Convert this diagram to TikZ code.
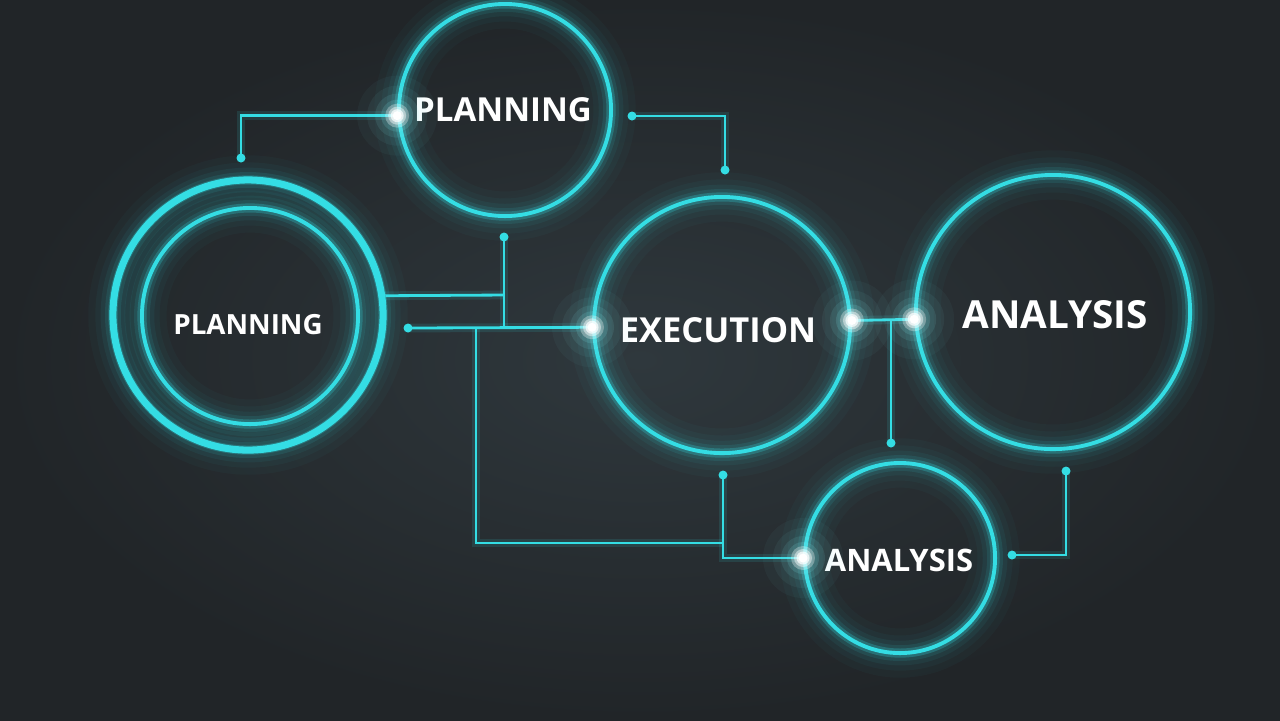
\documentclass[tikz,border=0pt]{standalone}
\usepackage{fontspec}
\setmainfont{Open Sans}
\usepackage{tikz}
\usetikzlibrary{positioning, calc}

\definecolor{neon}{HTML}{34DDE4}
\definecolor{bgmid}{HTML}{2F383D}
\definecolor{bgdark}{HTML}{212528}

\begin{document}
\begin{tikzpicture}
[x=0.01cm, y=-0.01cm,
ring/.style={circle, draw=neon, line width=1.1pt, inner sep=0pt,
  preaction={draw=neon, line width=14pt, opacity=0.03},
  preaction={draw=neon, line width=10pt, opacity=0.04},
  preaction={draw=neon, line width=7pt, opacity=0.06},
  preaction={draw=neon, line width=4.5pt, opacity=0.1},
  preaction={draw=neon, line width=2.6pt, opacity=0.25}},
label/.style={text=white, font=\bfseries, inner sep=0pt},
link/.style={draw=neon, line width=0.8pt,
  preaction={draw=neon, line width=2.5pt, opacity=0.12}},
enddot/.style={fill=neon},
]

% background
\shade[inner color=bgmid, outer color=bgdark] (0,0) rectangle (1280,720);
\useasboundingbox (0,0) rectangle (1280,720);

% circles
\node[ring, minimum size=2.12cm] (plantop) at (505,110) {};
\node[ring, line width=2pt, minimum size=2.7cm] (planring) at (248,315) {};
\node[ring, minimum size=2.16cm] (planleft) at (250,316) {};
\node[ring, minimum size=2.56cm] (exec) at (722,325) {};
\node[ring, minimum size=2.74cm] (anabig) at (1053,312) {};
\node[ring, minimum size=1.9cm] (anasmall) at (900,558) {};

% labels
\node[label, font=\bfseries\fontsize{9.4}{11}\selectfont] (tplantop) at (503,110) {PLANNING};
\node[label, font=\bfseries\fontsize{7.9}{10}\selectfont] (tplanleft) at (248,325) {PLANNING};
\node[label, font=\bfseries\fontsize{9.8}{12}\selectfont] (texec) at (718,330) {EXECUTION};
\node[label, font=\bfseries\fontsize{11}{13}\selectfont] (tanabig) at (1055,315) {ANALYSIS};
\node[label, font=\bfseries\fontsize{8.8}{11}\selectfont] (tanasmall) at (899,560) {ANALYSIS};

% free ends and junctions
\coordinate (d1) at (241,158);
\coordinate (d2) at (632,116);
\coordinate (d3) at (725,170);
\coordinate (d4) at (504,237);
\coordinate (d5) at (408,328);
\coordinate (d6) at (723,475);
\coordinate (d7) at (891,443);
\coordinate (d8) at (1012,555);
\coordinate (d9) at (1066,471);
\coordinate (j1) at (504,295);
\coordinate (j2) at (504,328);
\coordinate (j3) at (476,328);
\coordinate (j4) at (723,543);
\coordinate (j5) at (891,320);

% connectors
\draw[link] (plantop.183) -| (d1);
\draw[link] (d2) -| (d3);
\draw[link] (planring.8.5) -- (j1);
\draw[link] (d4) -- (j2);
\draw[link] (d5) -- (exec.181);
\draw[link] (j3) |- (j4);
\draw[link] (d6) |- (anasmall.west);
\draw[link] (exec.2) -- (anabig.183);
\draw[link] (j5) -- (d7);
\draw[link] (d8) -| (d9);

\foreach \p in {d1,d2,d3,d4,d5,d6,d7,d8,d9}
  \fill[enddot] (\p) circle (4.5);

% glowing points
\foreach \p in {plantop.183, exec.181, exec.2, anabig.183, anasmall.west}{
  \foreach \r/\o in {40/0.04, 30/0.06, 22/0.1, 16/0.15}
    \fill[neon!60!white, opacity=\o] (\p) circle (\r);
  \foreach \r/\o in {12/0.3, 9/0.45, 6.5/0.7, 4.5/1}
    \fill[white, opacity=\o] (\p) circle (\r);
}

\end{tikzpicture}
\end{document}
